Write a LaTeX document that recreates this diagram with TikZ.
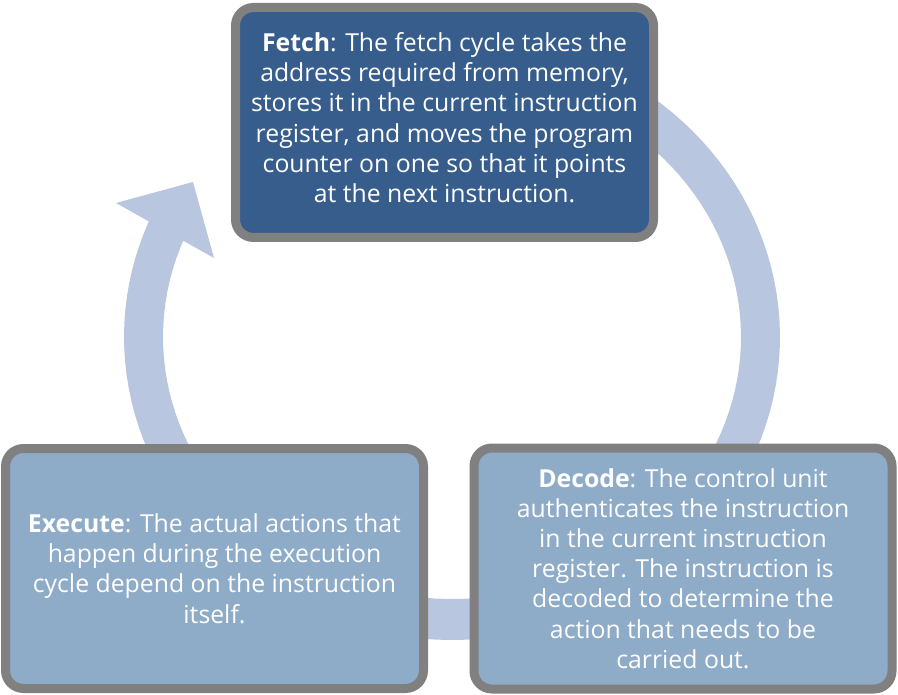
\documentclass[tikz,border=0pt]{standalone}
\usepackage{fontspec}
\setmainfont{Open Sans}
\definecolor{ringblue}{HTML}{B9C6DF}
\definecolor{darkbox}{HTML}{375D8C}
\definecolor{lightbox}{HTML}{8EABC8}
\definecolor{bordergray}{HTML}{808080}
\tikzset{
  cyclebox/.style={draw=bordergray, line width=9pt, rounded corners=18pt,
    text=white, align=center, inner sep=0pt,
    minimum width=418pt, font=\fontsize{24.8}{30.2}\selectfont},
  ringfill/.style={fill=ringblue, draw=none}
}
\begin{document}
\begin{tikzpicture}[x=1pt,y=-1pt]
\useasboundingbox (0,0) rectangle (898,695);
% circular arrow
\fill[ringfill] plot[domain=155:450, samples=120] ({452+328*cos(\x)}, {337-303*sin(\x)})
  -- plot[domain=155:450, samples=120] ({452+289*cos(605-\x)}, {337-262*sin(605-\x)}) -- cycle;
\coordinate (tip) at (193,182);
\coordinate (barbL) at (116,203);
\coordinate (barbR) at (214,258);
\fill[ringfill] (tip) -- (barbL) -- (barbR) -- cycle;
% boxes
\node[cyclebox, fill=darkbox, minimum height=230pt, text depth=10pt] (fetch) at (444.5,122.5)
  {\textbf{Fetch}: The fetch cycle takes the\\address required from memory,\\stores it in the current instruction\\register, and moves the program\\counter on one so that it points\\at the next instruction.};
\node[cyclebox, fill=lightbox, minimum height=240pt] (execute) at (214.5,568.5)
  {\textbf{Execute}: The actual actions that\\happen during the execution\\cycle depend on the instruction\\itself.};
\node[cyclebox, fill=lightbox, minimum height=241pt] (decode) at (683,568.5)
  {\textbf{Decode}: The control unit\\authenticates the instruction\\in the current instruction\\register. The instruction is\\decoded to determine the\\action that needs to be\\carried out.};
\end{tikzpicture}
\end{document}
